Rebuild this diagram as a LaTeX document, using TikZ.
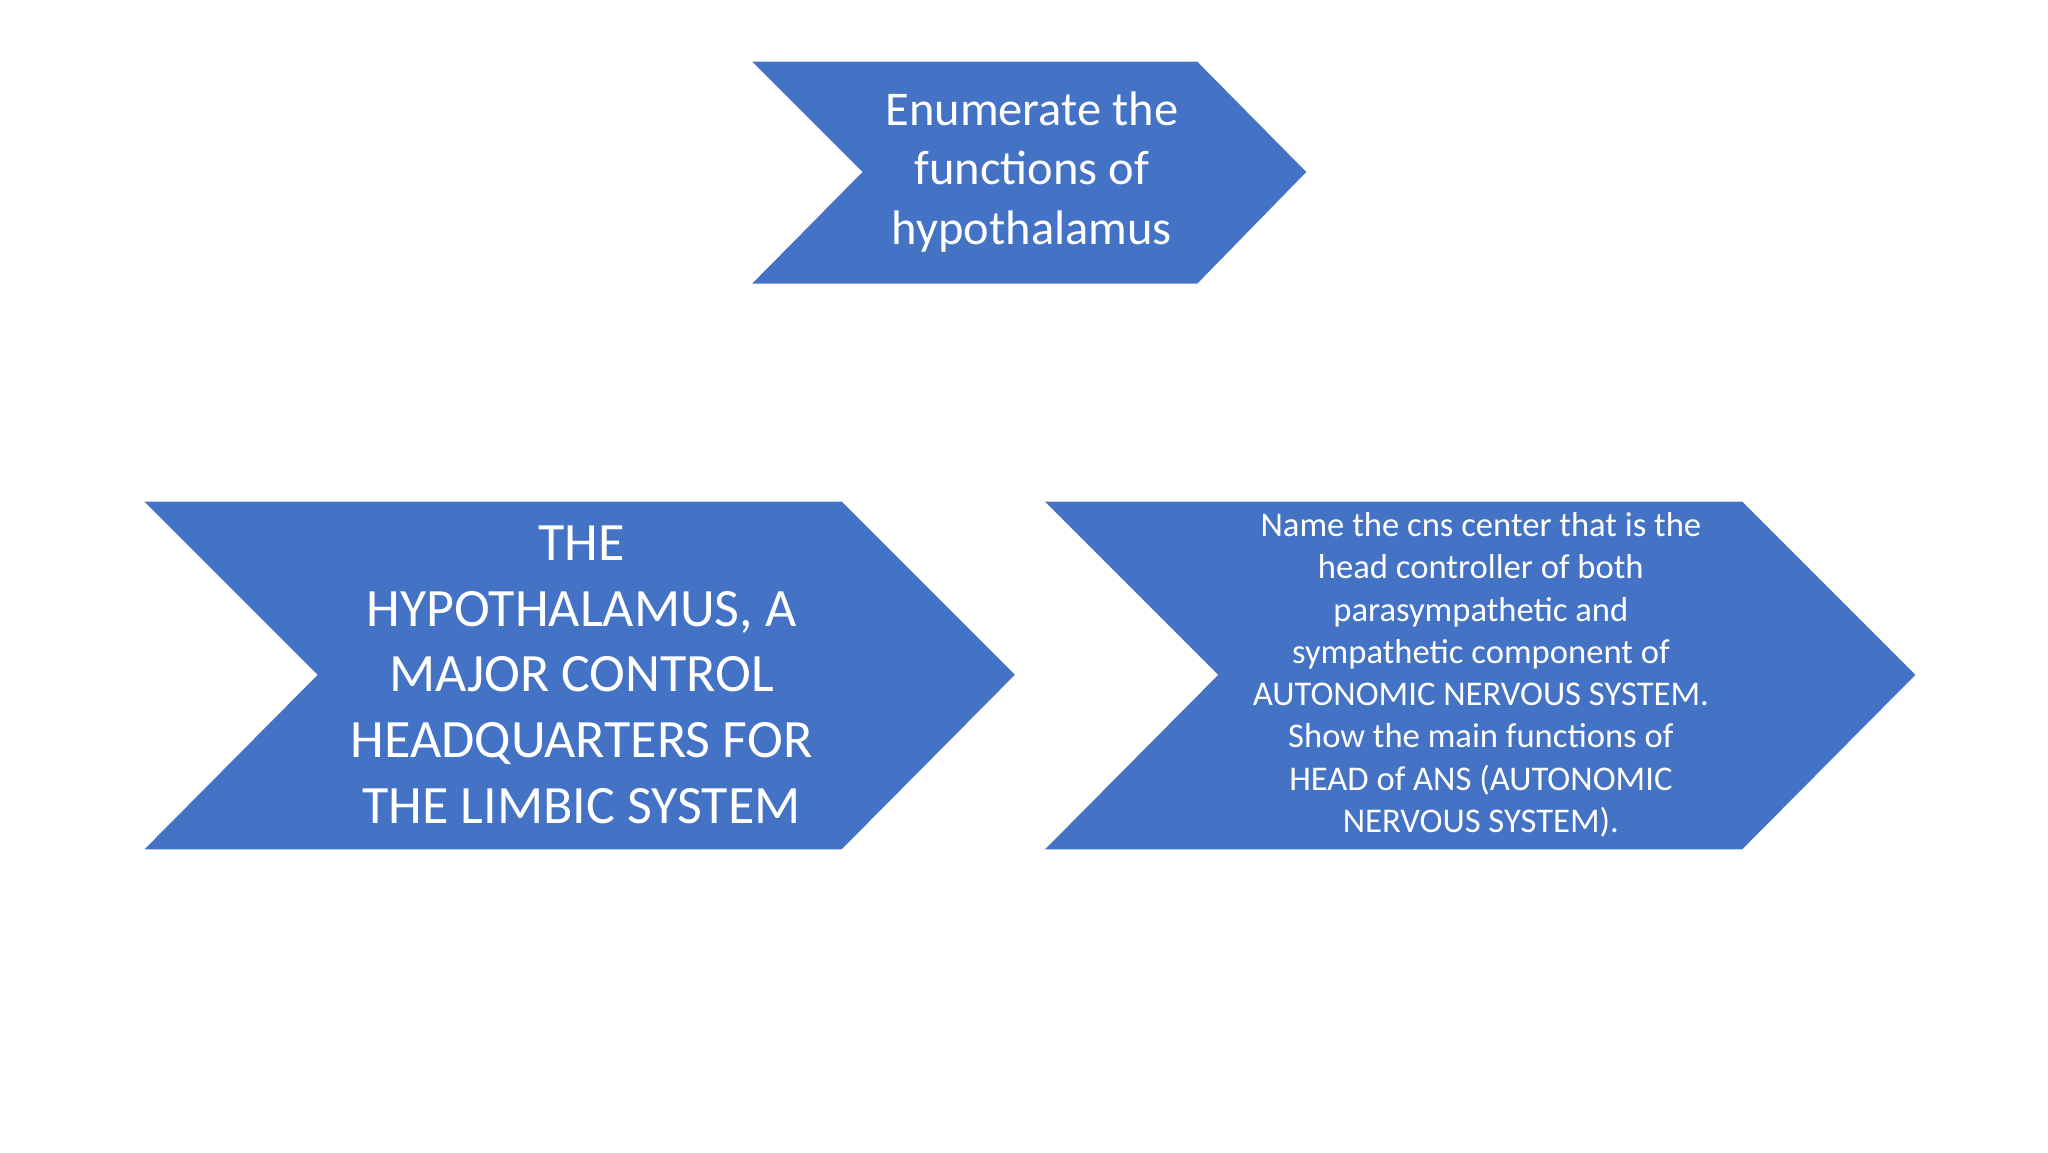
\documentclass[tikz,border=0pt]{standalone}
\usepackage{fontspec}
\setmainfont{Carlito}
\definecolor{chev}{HTML}{4472C4}
\tikzset{chevron/.style={fill=chev,draw=none},
lbl/.style={text=white,align=center,inner sep=0pt}}
\begin{document}
\begin{tikzpicture}[x=0.01cm,y=-0.01cm]
\useasboundingbox[fill=white] (0,0) rectangle (1560,877.5);
\fill[chevron] (573,47)--(912,47)--(995,131)--(912,216)--(573,216)--(657,131)--cycle;
\fill[chevron] (110,382)--(641,382)--(773,514)--(641,647)--(110,647)--(242,514)--cycle;
\fill[chevron] (796,382)--(1327,382)--(1459,514)--(1327,647)--(796,647)--(928,514)--cycle;
\node[lbl,font=\fontsize{10.5}{12.8}\selectfont] (t) at (786,131) {Enumerate the\\functions of\\hypothalamus};
\node[lbl,font=\fontsize{11.7}{14.2}\selectfont] (l) at (443,514) {THE\\HYPOTHALAMUS, A\\MAJOR CONTROL\\HEADQUARTERS FOR\\THE LIMBIC SYSTEM};
\node[lbl,font=\fontsize{7.5}{9.15}\selectfont] (r) at (1128,514) {Name the cns center that is the\\head controller of both\\parasympathetic and\\sympathetic component of\\AUTONOMIC NERVOUS SYSTEM.\\Show the main functions of\\HEAD of ANS (AUTONOMIC\\NERVOUS SYSTEM).};
\end{tikzpicture}
\end{document}
